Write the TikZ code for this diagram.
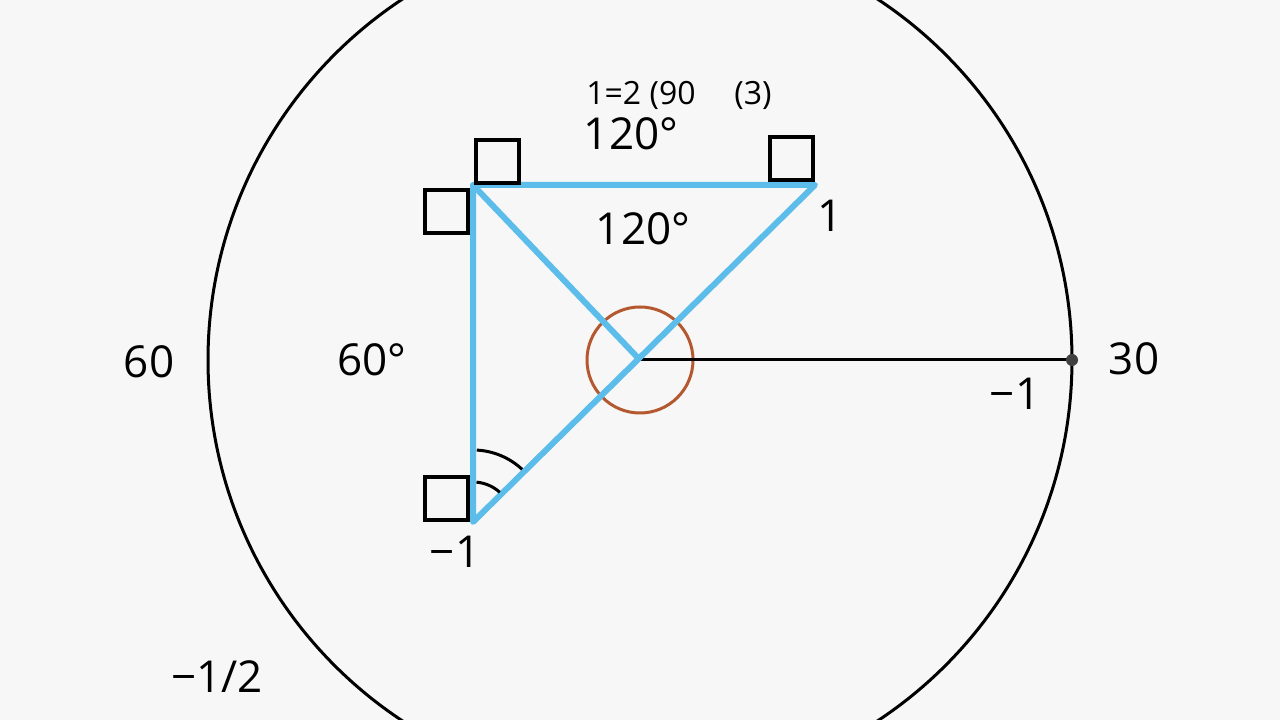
\documentclass[tikz,border=0pt]{standalone}
\usepackage{fontspec}
\setmainfont{Open Sans}
\usetikzlibrary{positioning}
\definecolor{bg}{HTML}{F7F7F7}
\definecolor{sky}{HTML}{5CBDEA}
\definecolor{rust}{HTML}{B3582F}

\begin{document}
\begin{tikzpicture}[x=1pt, y=1pt,
    sqbox/.style={draw, line width=4pt, minimum size=43pt, inner sep=0pt},
    lbl/.style={font=\fontsize{44}{54}\selectfont, inner sep=0pt, anchor=base},
    small/.style={font=\fontsize{32}{38}\selectfont, inner sep=0pt, anchor=base},
    side/.style={draw=sky, line width=6pt, line join=round}]
    \useasboundingbox[fill=bg] (0,0) rectangle (1280,720);
    \clip (0,0) rectangle (1280,720);

    \coordinate (O) at (640,360);
    \coordinate (A) at (473,535);
    \coordinate (B) at (815,535);
    \coordinate (C) at (473,198);
    \coordinate (D) at (1072,360);

    % unit circle and radius
    \draw[line width=3pt] (O) circle [radius=432];
    \draw[rust, line width=3pt] (O) circle [radius=53];
    \draw[line width=3pt] (O) -- (D);

    % triangle
    \draw[side] (A) -- (B) -- (C) -- cycle;
    \draw[side] (A) -- (O);
    \fill[black!75] (D) circle [radius=6];

    % angle at C
    \draw[line width=3pt] (C) ++(87:72) arc [start angle=87, end angle=47, radius=72];
    \draw[line width=3pt] (C) ++(85:40) arc [start angle=85, end angle=48, radius=40];

    % little squares
    \node[sqbox] (boxA)  [above right=0pt and 1pt of A] {};
    \node[sqbox] (boxAl) [below left=3pt and 3pt of A]  {};
    \node[sqbox] (boxB)  [above left=3pt and 0pt of B]  {};
    \node[sqbox] (boxC)  [above left=0pt and 3pt of C]  {};

    % labels
    \node[small] (eq)    at (641,615)  {1=2 (90};
    \node[small] (three) at (753,615)  {(3)};
    \node[lbl]   (angT)  at (631,570)  {120°};
    \node[lbl]   (angM)  at (643,475)  {120°};
    \node[lbl]   (oneB)  at (830,488)  {1};
    \node[lbl]   (sixty) at (149,342)  {60};
    \node[lbl]   (angL)  at (372,344)  {60°};
    \node[lbl]   (thirty) at (1134,345) {30};
    \node[lbl]   (mD)    at (1015,310) {−1};
    \node[lbl]   (mC)    at (455,152)  {−1};
    \node[lbl]   (half)  at (217,27)   {−1/2};
\end{tikzpicture}
\end{document}
